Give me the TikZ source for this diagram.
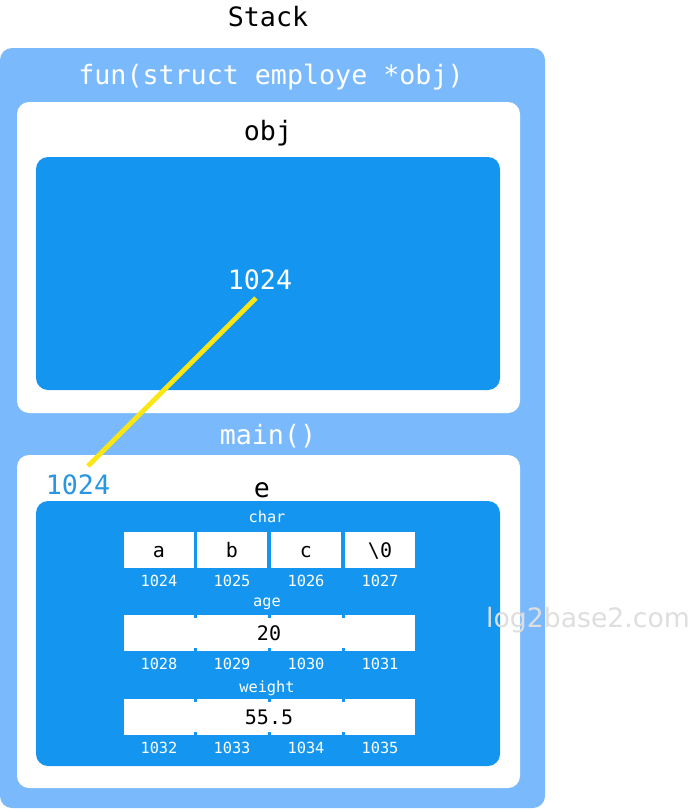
\documentclass[tikz,border=0pt]{standalone}
\usepackage{fontspec}
\setmonofont{DejaVu Sans Mono}
\setsansfont{DejaVu Sans}
\definecolor{lb}{RGB}{122,186,252}
\definecolor{db}{RGB}{20,150,240}
\definecolor{yl}{RGB}{250,230,20}
\definecolor{tb}{RGB}{40,150,225}
\begin{document}
\begin{tikzpicture}[x=0.75pt,y=-0.75pt,
  wbox/.style={fill=white,rounded corners=9pt},
  bbox/.style={fill=db,rounded corners=9pt},
  cell/.style={fill=white,draw=none},
  lbl/.style={font=\ttfamily\fontsize{20}{20}\selectfont},
  addr/.style={font=\ttfamily\fontsize{11.5}{12}\selectfont,text=white},
  fieldcap/.style={font=\ttfamily\fontsize{11.5}{12}\selectfont,text=white},
  val/.style={font=\ttfamily\fontsize{15}{15}\selectfont,anchor=base}]
\useasboundingbox (0,0) rectangle (700,811);
\fill[white] (0,0) rectangle (700,811);
\node[lbl] (stack) at (268,17) {Stack};
\fill[lb,rounded corners=9pt] (0,48) rectangle (545,808);
\node[lbl,text=white] (fun) at (271,77) {fun(struct employe *obj)};
\fill[wbox] (17,102) rectangle (520,413);
\node[lbl] (obj) at (268,133) {obj};
\fill[bbox] (36,157) rectangle (500,390);
\node[lbl,text=white] (v) at (260,280) {1024};
\node[lbl,text=white] (main) at (268,436) {main()};
\fill[wbox] (17,455) rectangle (520,788);
\node[lbl,text=tb] (addr) at (78,485) {1024};
\node[lbl] (e) at (262,490) {e};
\fill[bbox] (36,501) rectangle (500,766);
\coordinate (ys) at (88,466);
\coordinate (ye) at (256,298);
\draw[yl,line width=3.5pt] (ys) -- (ye);
\node[fieldcap] (char) at (267,517) {char};
\foreach \x/\t [count=\i] in {124/a,197/b,271/c,345/{\textbackslash0}}{
  \fill[cell] (\x,532) rectangle ++(70,36);
  \node[val] (c\i) at (\x+35,557) {\t};
}
\foreach \x/\t in {159/1024,232/1025,306/1026,380/1027}{\node[addr] at (\x,581) {\t};}
\node[fieldcap] (age) at (267,604) {age};
\fill[cell] (124,615) rectangle (415,651);
\node[val] (a20) at (269,640) {20};
\foreach \x/\t in {159/1028,232/1029,306/1030,380/1031}{\node[addr] at (\x,664) {\t};}
\node[fieldcap] (wt) at (267,688) {weight};
\fill[cell] (124,699) rectangle (415,735);
\node[val] (w) at (269,724) {55.5};
\foreach \x/\t in {159/1032,232/1033,306/1034,380/1035}{\node[addr] at (\x,748) {\t};}
\foreach \y in {615,699}{
 \foreach \x in {195.5,269.5,343.5}{
  \fill[db] (\x-1.5,\y) rectangle (\x+1.5,\y+3);
  \fill[db] (\x-1.5,\y+33) rectangle (\x+1.5,\y+36);
 }}
\node[font=\sffamily\fontsize{20}{20}\selectfont,text=black!13] (wm) at (588,620) {log2base2.com};
\end{tikzpicture}
\end{document}
